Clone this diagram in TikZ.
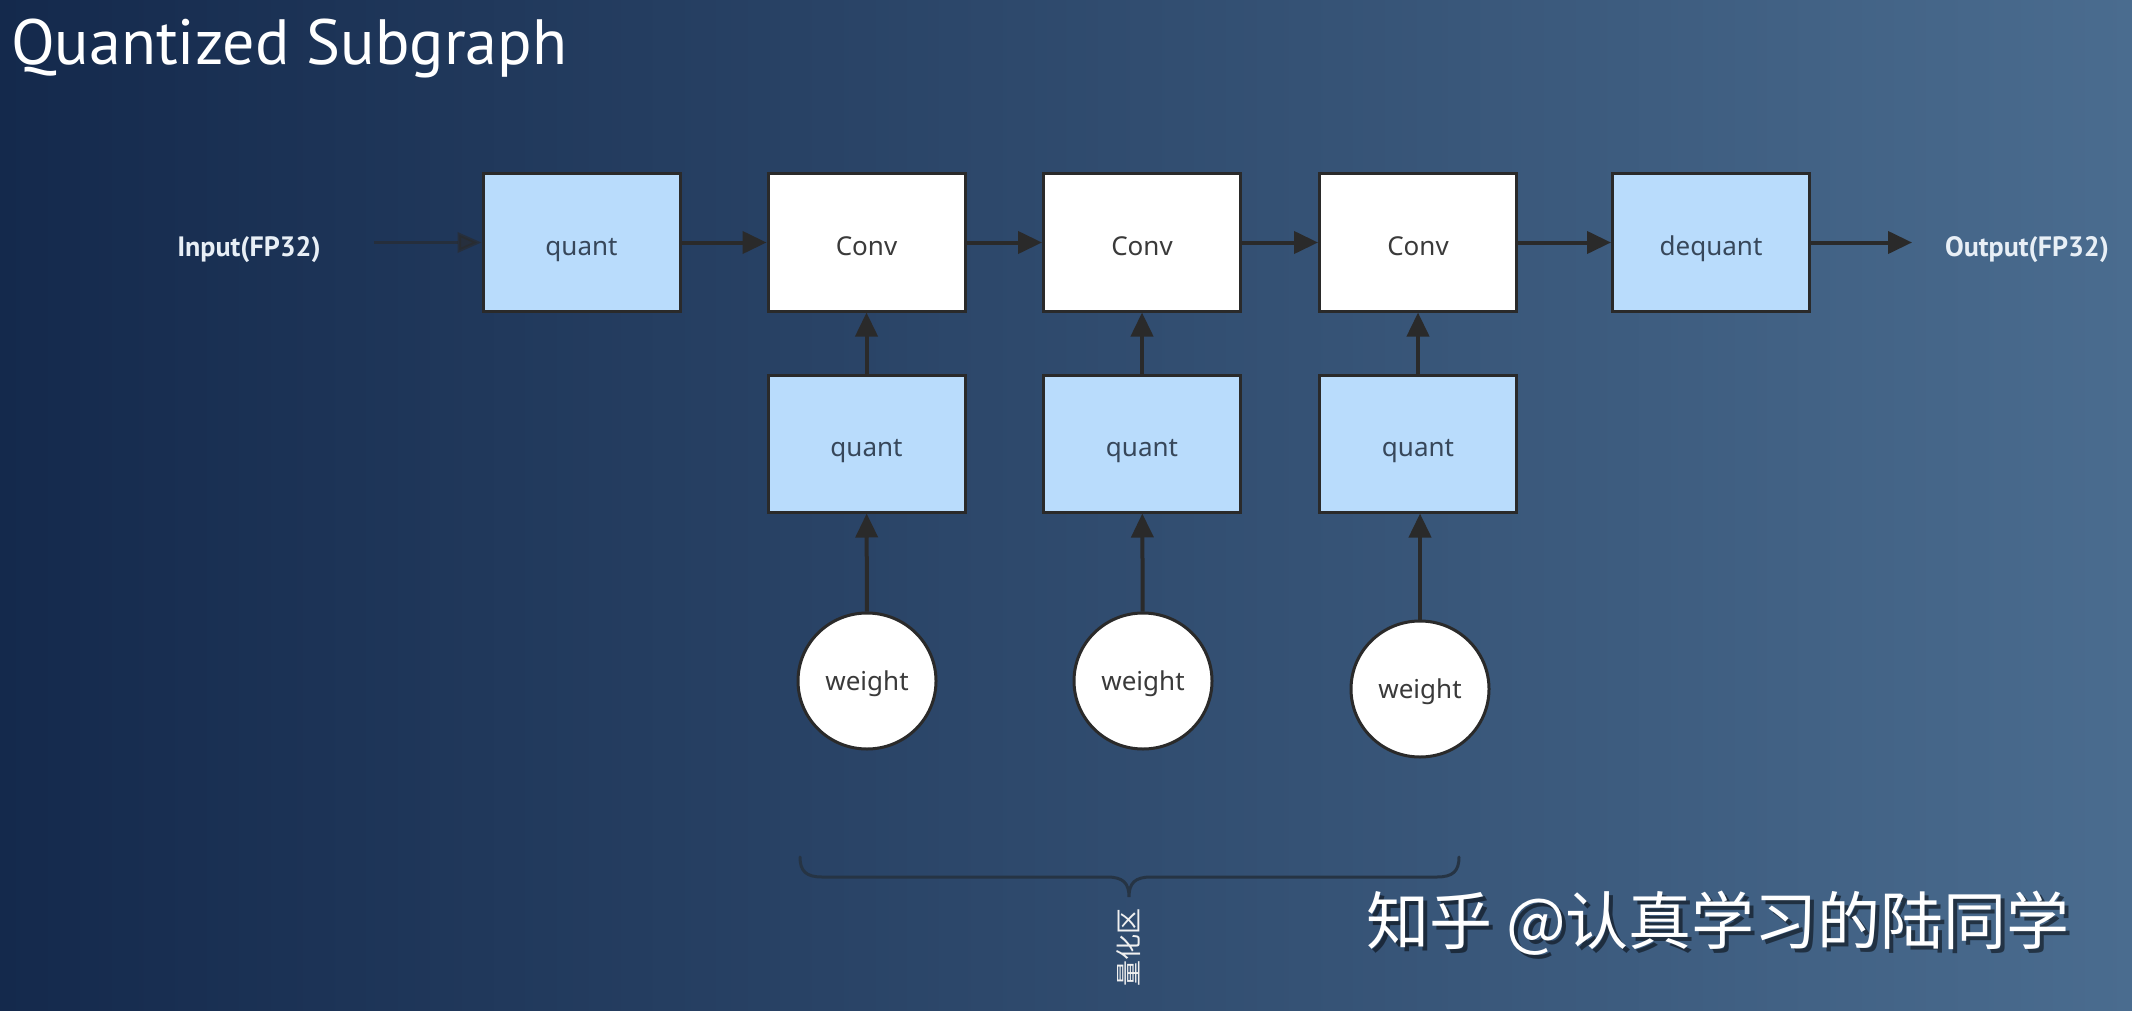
\documentclass[tikz,border=0pt]{standalone}
\usepackage{fontspec}
\setmainfont{Noto Sans}
\newfontfamily\titlefont{PT Sans}
\newfontfamily\labelfont{PT Sans}
\newfontfamily\cjk{Noto Sans CJK SC}
\usetikzlibrary{arrows.meta,shapes.geometric}
\definecolor{bgl}{HTML}{14294C}
\definecolor{bgm}{HTML}{294970}
\definecolor{bgr}{HTML}{4A6C8F}
\definecolor{qfill}{HTML}{B9DCFC}
\definecolor{edgec}{HTML}{2A2A2A}
\definecolor{txt}{HTML}{3A3A3A}
\definecolor{qtxt}{HTML}{37475A}
\definecolor{bracec}{HTML}{263444}
\definecolor{lbl}{HTML}{E8EFF6}
\begin{document}
\begin{tikzpicture}[x=1pt,y=-1pt,
  box/.style={draw=edgec, line width=3pt, minimum width=197pt, minimum height=137pt,
    inner sep=0pt, font=\fontsize{26}{30}\selectfont, text height=25pt, text depth=0pt},
  qbox/.style={box, fill=qfill, text=qtxt},
  cbox/.style={box, fill=white, text=txt},
  wnode/.style={ellipse, draw=edgec, line width=3pt, fill=white, minimum width=138pt,
    minimum height=136pt, inner sep=0pt, text=txt, font=\fontsize{26}{30}\selectfont,
    text height=18pt, text depth=0pt},
  conn/.style={draw=edgec, line width=4pt, -{Triangle[length=24pt,width=22pt]}},
  faint/.style={draw=edgec, line width=3.5pt, opacity=0.6, -{Triangle[length=24pt,width=20pt]}},
  iolabel/.style={anchor=base, inner sep=0pt, text=lbl, font=\labelfont\bfseries\fontsize{28}{28}\selectfont}
]
\useasboundingbox (0,0) rectangle (2132,1011);
\shade[left color=bgl, middle color=bgm, right color=bgr] (0,0) rectangle (2132,1011);

\node[anchor=base west, inner sep=0pt, text=white, font=\titlefont\fontsize{64}{64}\selectfont] (title) at (11,65) {Quantized Subgraph};

\node[iolabel] (in) at (249,256) {Input(FP32)};
\node[iolabel] (out) at (2027,256) {Output(FP32)};

\node[qbox] (q0) at (581.5,242.5) {quant};
\node[cbox] (c1) at (866.5,242.5) {Conv};
\node[cbox] (c2) at (1142,242.5) {Conv};
\node[cbox] (c3) at (1418,242.5) {Conv};
\node[qbox] (dq) at (1711,242.5) {dequant};

\node[qbox] (q1) at (866.5,443.5) {quant};
\node[qbox] (q2) at (1142,443.5) {quant};
\node[qbox] (q3) at (1418,443.5) {quant};

\node[wnode] (w1) at (867,681) {weight};
\node[wnode] (w2) at (1143,681) {weight};
\node[wnode] (w3) at (1420,689) {weight};

\coordinate (instart) at (374,242.5);
\coordinate (outend) at (1912,242.5);

\draw[faint] (instart) -- (q0.west);
\draw[conn] (q0) -- (c1);
\draw[conn] (c1) -- (c2);
\draw[conn] (c2) -- (c3);
\draw[conn] (c3) -- (dq);
\draw[conn] (dq.east) -- (outend);

\draw[conn] (q1) -- (c1);
\draw[conn] (q2) -- (c2);
\draw[conn] (q3) -- (c3);
\draw[conn] (w1) -- (q1);
\draw[conn] (w2) -- (q2);
\draw[conn] (w3.north) -- (q3.south -| w3.north);

\draw[bracec, line width=3pt, line cap=round]
  (800,857) .. controls (800,871) and (806,877) .. (822,877) -- (1107,877)
  .. controls (1123,877) and (1129,883) .. (1129,897)
  .. controls (1129,883) and (1135,877) .. (1151,877) -- (1437,877)
  .. controls (1453,877) and (1459,871) .. (1459,857);
\node[rotate=90, inner sep=0pt, text=white!88!gray, font=\cjk\fontsize{26}{26}\selectfont] (zone) at (1129,947) {量化区};

\node[anchor=base west, inner sep=0pt, text=black, opacity=0.5, font=\cjk\fontsize{63}{63}\selectfont] (wmshadow) at (1370,948) {知乎 @认真学习的陆同学};
\node[anchor=base west, inner sep=0pt, text=white, font=\cjk\fontsize{63}{63}\selectfont] (wm) at (1366,944) {知乎 @认真学习的陆同学};
\end{tikzpicture}
\end{document}
